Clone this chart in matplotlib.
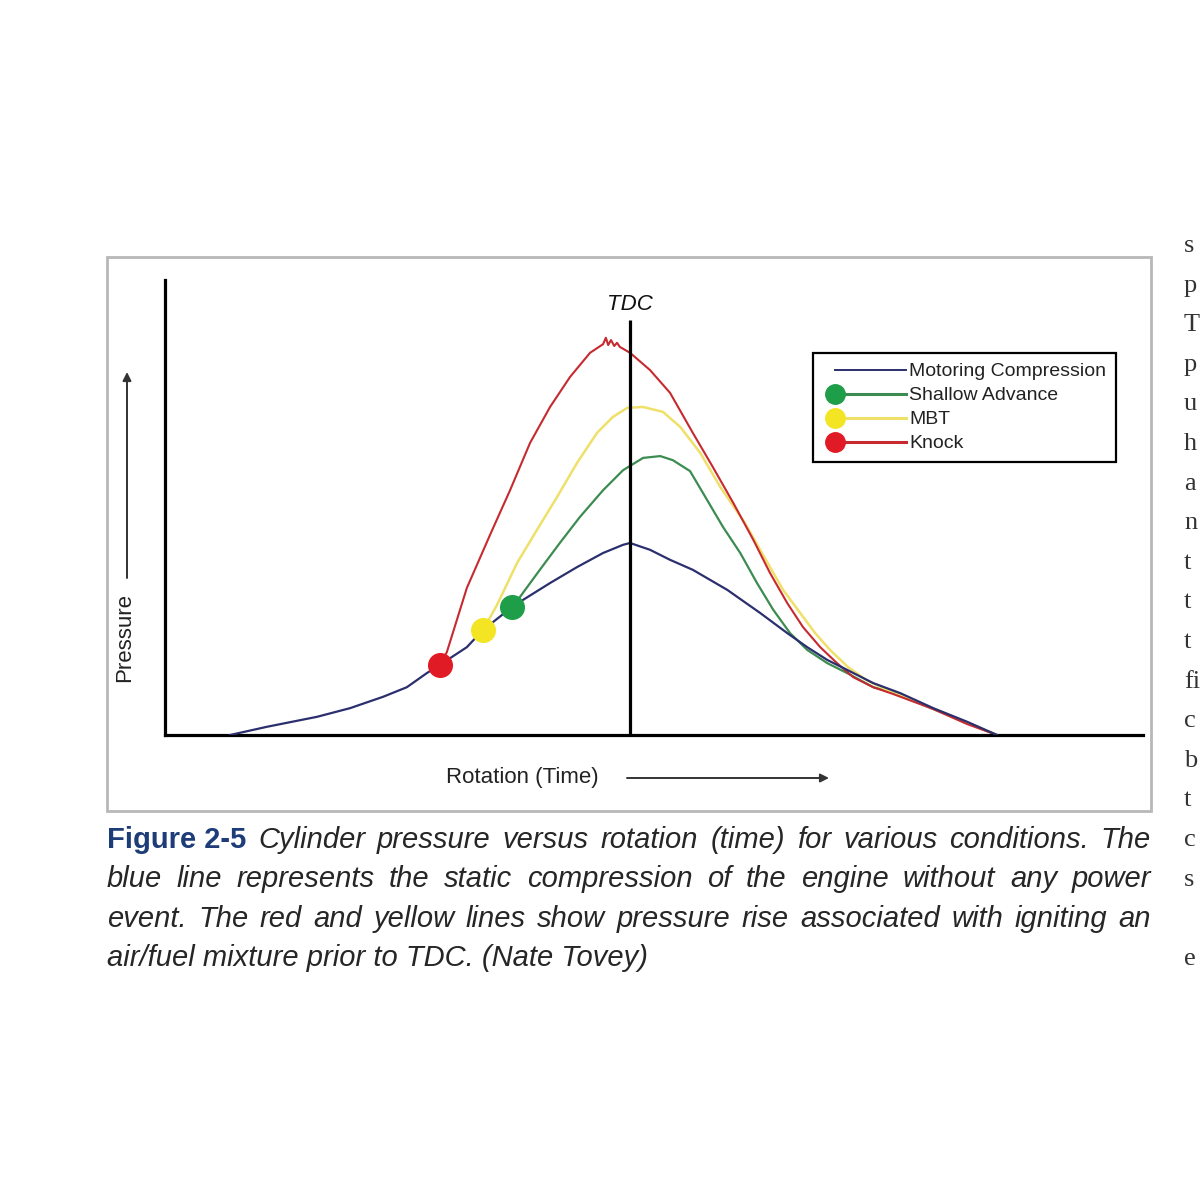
#!/usr/bin/env python3
"""Figure 2-5: cylinder pressure vs rotation, recreated as a book-page scan."""
import matplotlib; matplotlib.use("Agg")
import matplotlib.pyplot as plt
from matplotlib.lines import Line2D
from matplotlib.legend_handler import HandlerLine2D
from matplotlib.patches import Rectangle

plt.rcParams["font.family"] = ["Liberation Sans", "DejaVu Sans"]

# crank angle (deg, TDC = 0) and pressure (arbitrary units, 0-100)
motoring_x = [-86.0, -78.1, -67.3, -60.2, -53.1, -48.0, -43.7, -40.9, -35.1, -31.6, -25.4, -23.0,
              -17.2, -11.4, -5.8, -1.5, 0.0, 4.3, 8.6, 13.5, 20.9, 28.0, 33.8, 38.1, 42.4, 46.7,
              52.3, 58.1, 65.2, 72.5, 78.9]
motoring_p = [0.0, 1.8, 4.0, 5.9, 8.4, 10.5, 13.6, 15.4, 19.3, 23.1, 28.1, 29.7,
              33.4, 36.9, 40.0, 41.8, 42.2, 40.7, 38.5, 36.3, 31.9, 26.8, 22.4, 19.3, 16.5, 14.3,
              11.4, 9.2, 5.9, 2.9, 0.0]

shallow_x = [-25.4, -23.7, -19.4, -15.1, -10.8, -5.8, -1.5, 2.8, 6.5, 9.2, 12.9, 16.6, 20.0,
             23.7, 27.3, 30.8, 34.4, 38.1, 42.4, 46.7, 52.3, 58.1, 65.2, 72.5, 78.9]
shallow_p = [28.1, 30.3, 36.3, 42.2, 47.9, 53.8, 58.2, 60.9, 61.3, 60.4, 58.0, 51.6, 45.7,
             40.0, 33.4, 27.5, 22.4, 18.7, 15.8, 13.6, 10.5, 8.9, 5.7, 2.7, 0.0]

mbt_x = [-31.6, -28.6, -24.3, -20.0, -15.7, -11.4, -7.1, -3.7, -0.6, 2.8, 7.1, 10.8, 15.1,
         19.4, 24.7, 29.2, 32.9, 36.6, 39.8, 43.0, 46.9, 50.8, 56.6, 60.9, 68.8, 78.9]
mbt_p = [23.1, 28.6, 37.8, 45.1, 52.3, 59.8, 66.4, 69.9, 71.9, 72.1, 71.0, 67.7, 62.0,
         54.5, 46.6, 38.5, 31.9, 26.8, 22.4, 18.7, 14.9, 12.1, 9.2, 7.7, 4.2, 0.0]

knock_x = [-40.9, -39.4, -35.1, -30.1, -25.8, -21.5, -17.2, -12.9, -8.6, -5.8, -5.2, -4.7,
           -4.1, -3.4, -2.8, -2.2, 0.0, 4.3, 8.6, 13.5, 17.8, 22.2, 26.5, 30.1, 33.8, 37.2,
           40.9, 44.5, 48.0, 52.3, 56.6, 65.2, 72.5, 78.9]
knock_p = [15.4, 18.2, 32.3, 44.0, 53.8, 64.2, 72.1, 78.7, 84.0, 85.9, 87.3, 85.7,
           86.8, 85.5, 86.2, 85.3, 84.0, 80.2, 75.2, 66.4, 58.9, 51.0, 42.9, 35.6, 29.0, 23.7,
           19.3, 15.8, 12.7, 10.5, 9.0, 5.7, 2.4, 0.0]

# ignition points (crank angle, pressure) sitting on the motoring curve
ign_x = {"Shallow Advance": -25.4, "MBT": -31.6, "Knock": -40.9}
ign_p = {"Shallow Advance": 28.1, "MBT": 23.1, "Knock": 15.4}
tdc_top = 91.2

labels = ["Motoring Compression", "Shallow Advance", "MBT", "Knock"]
line_col = {"Motoring Compression": "#2b2f6e", "Shallow Advance": "#3c8c52",
            "MBT": "#efe06a", "Knock": "#c62a2f"}
dot_col = {"Shallow Advance": "#1f9e4a", "MBT": "#f3e424", "Knock": "#e11b25"}

caption_lines = [
    "Cylinder pressure versus rotation (time) for various conditions. The",
    "blue line represents the static compression of the engine without any power",
    "event. The red and yellow lines show pressure rise associated with igniting an",
    "air/fuel mixture prior to TDC. (Nate Tovey)",
]
# first letters of the body text column cut off at the right edge of the scan
edge_letters = ["s", "p", "T", "p", "u", "h", "a", "n", "t", "t", "t", "fi",
                "c", "b", "t", "c", "s", "", "e"]

W, H = 1200, 1200
def fx(px): return px / W
def fy(py): return 1 - py / H


class LeftMarkerHandler(HandlerLine2D):
    # dot at the left end of the legend line, like the original
    def get_xdata(self, legend, xdescent, ydescent, width, height, fontsize):
        off = 0.62 * fontsize
        return [-xdescent + off, -xdescent + width], [-xdescent + off]

    def create_artists(self, *args, **kwargs):
        arts = super().create_artists(*args, **kwargs)
        for a in arts:
            a.set_markevery([0])
        return arts


fig = plt.figure(figsize=(12, 12), dpi=100)
ax = fig.add_axes([fx(165), fy(735), fx(1143) - fx(165), fy(280) - fy(735)])
ax.set_xlim(-100, 110.3); ax.set_ylim(0, 100)
for s in ["top", "right"]: ax.spines[s].set_visible(False)
for s in ["left", "bottom"]: ax.spines[s].set_linewidth(2.3); ax.spines[s].set_color("black")
ax.set_xticks([]); ax.set_yticks([])
ax.patch.set_alpha(0)

ax.plot(motoring_x, motoring_p, color=line_col["Motoring Compression"], lw=1.6, zorder=3)
ax.plot(shallow_x, shallow_p, color=line_col["Shallow Advance"], lw=1.6, zorder=2)
ax.plot(mbt_x, mbt_p, color=line_col["MBT"], lw=1.8, zorder=2)
ax.plot(knock_x, knock_p, color=line_col["Knock"], lw=1.5, zorder=2)
ax.vlines(0, 0, tdc_top, color="black", lw=2.3, zorder=4)
for k in ["Knock", "MBT", "Shallow Advance"]:
    ax.plot(ign_x[k], ign_p[k], "o", ms=17, color=dot_col[k], mec=dot_col[k], zorder=5, clip_on=False)

handles = [Line2D([], [], color=line_col["Motoring Compression"], lw=1.4)]
for k in labels[1:]:
    handles.append(Line2D([], [], color=line_col[k], lw=2.2, marker="o", ms=14,
                          mfc=dot_col[k], mec=dot_col[k]))
leg = ax.legend(handles, labels, loc="upper left", bbox_to_anchor=(fx(813), fy(353)),
                bbox_transform=fig.transFigure, borderaxespad=0, fontsize=14,
                handlelength=4.3, handletextpad=0.15, labelspacing=0.33, borderpad=0.5,
                fancybox=False, framealpha=1, edgecolor="black",
                handler_map={Line2D: LeftMarkerHandler()})
leg.get_frame().set_linewidth(1.6)
for t in leg.get_texts(): t.set_color("#222222")

fig.text(fx(630), fy(305), "TDC", style="italic", fontsize=16, ha="center", va="center", color="#111111")
fig.text(fx(125), fy(638), "Pressure", rotation=90, fontsize=16, ha="center", va="center", color="#222222")
fig.text(fx(446), fy(777), "Rotation (Time)", fontsize=16, ha="left", va="center", color="#222222")
arr = dict(arrowstyle="-|>,head_length=0.5,head_width=0.25", color="#333333", lw=1.4, shrinkA=0, shrinkB=0)
ax.annotate("", xy=(127, H - 372), xytext=(127, H - 578), xycoords="figure pixels",
            textcoords="figure pixels", arrowprops=arr)
ax.annotate("", xy=(829, H - 778), xytext=(627, H - 778), xycoords="figure pixels",
            textcoords="figure pixels", arrowprops=arr)

fig.add_artist(Rectangle((fx(107), fy(811)), fx(1151) - fx(107), fy(257) - fy(811),
                         transform=fig.transFigure, fill=False, edgecolor="#b8b8b8", lw=2))

# caption, justified like the printed page
cap_kw = dict(fontsize=21, style="italic", color="#262626")
fig_kw = dict(fontsize=21, weight="bold", color="#1d3c78")
renderer = fig.canvas.get_renderer()
left, right = 107, 1151
baselines = [848, 887, 927, 966]
for i, (line, yb) in enumerate(zip(caption_lines, baselines)):
    if i == len(caption_lines) - 1:
        fig.text(fx(left), fy(yb), line, va="baseline", ha="left", **cap_kw)
        continue
    parts = [(w, cap_kw) for w in line.split()]
    if i == 0:
        parts = [("Figure 2-5", fig_kw)] + parts
    objs = [fig.text(0, fy(yb), w, va="baseline", ha="left", **kw) for w, kw in parts]
    widths = [o.get_window_extent(renderer).width for o in objs]
    gap = (right - left - sum(widths)) / (len(objs) - 1)
    x = left
    for o, w in zip(objs, widths):
        o.set_x(fx(x)); x += w + gap

for i, s in enumerate(edge_letters):
    fig.text(fx(1184), fy(252 + i * 39.6), s, fontsize=19, family=["Liberation Serif", "DejaVu Serif"],
             va="baseline", ha="left", color="#333333")

fig.savefig("out.png", dpi=100, facecolor="white")
